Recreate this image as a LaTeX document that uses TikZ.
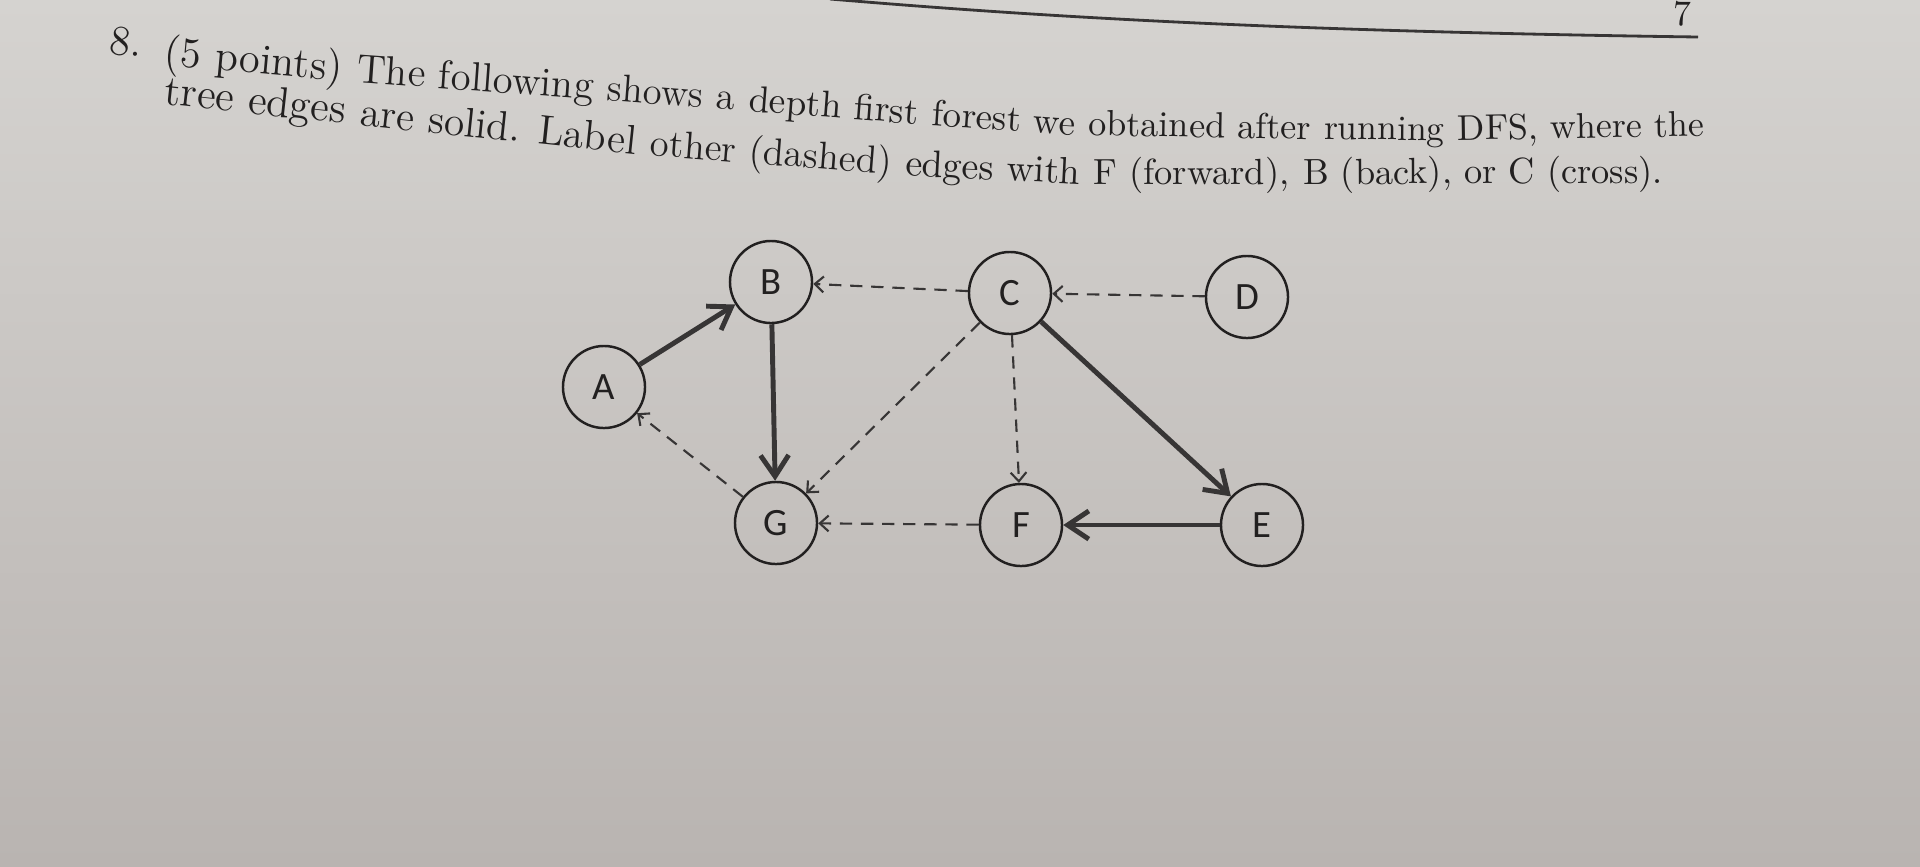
\documentclass[tikz,border=0pt]{standalone}
\usepackage{fontspec}
\usepackage{xcolor}
\usepackage{tikz}
\usetikzlibrary{arrows.meta}
\newfontfamily\vertexfont{Carlito}
\definecolor{papertop}{RGB}{213,211,208}
\definecolor{paperbot}{RGB}{185,180,177}
\definecolor{ink}{RGB}{34,32,32}
\definecolor{edgeink}{RGB}{55,53,53}
\newcommand{\pt}[1]{\fontsize{#1}{#1}\selectfont}

\begin{document}
\begin{tikzpicture}[x=0.01cm, y=0.01cm,
  vertex/.style={draw=ink, line width=0.7pt, circle, minimum size=0.82cm, text=ink,
    font=\vertexfont\fontsize{11}{13}\selectfont},
  tree/.style={draw=edgeink, line width=1.4pt, -{Straight Barb[length=6pt,width=8pt]}},
  other/.style={draw=edgeink, line width=0.6pt, dash pattern=on 3.5pt off 2.5pt,
    -{Straight Barb[length=2.5pt,width=4.5pt]}},
  words/.style={anchor=base west, text=ink}]
\tikzstyle{every node}+=[inner sep=0pt]
\useasboundingbox (0,0) rectangle (1920,-866);
\shade [top color=papertop, bottom color=paperbot] (0,0) rectangle (1920,-866);
% page header
\draw [edgeink, line width=0.8pt] (830,1) .. controls (1020,-15) and (1260,-31) .. (1698,-37);
\node [words, anchor=base east, font=\pt{10.2}] (page) at (1692,-25) {7};
% question text, first line
\node [words, rotate=-8, font=\pt{12}] (num) at (108,-53) {8.};
\node [words, rotate=-5.2, font=\pt{12.1}] (l1a) at (163,-65) {(5 points)};
\node [words, rotate=-4.1, font=\pt{11.6}] (l1b) at (l1a.base east) {\ The following};
\node [words, rotate=-4.4, font=\pt{11}] (l1c) at (l1b.base east) {\ shows a};
\node [words, rotate=-4.4, font=\pt{10.6}] (l1d) at (l1c.base east) {\ depth first};
\node [words, rotate=-4, font=\pt{10.5}] (l1e) at (l1d.base east) {\ forest we};
\node [words, rotate=-1, font=\pt{10.3}] (l1f) at (l1e.base east) {\ obtained after};
\node [words, rotate=-0.4, font=\pt{10.1}] (l1g) at (l1f.base east) {\ running};
\node [words, rotate=0.9, font=\pt{10.2}] (l1h) at (l1g.base east) {\ DFS, where the};
% second line
\node [words, rotate=-6.2, font=\pt{12.2}] (l2a) at (163,-104) {tree edges};
\node [words, rotate=-6, font=\pt{11.8}] (l2b) at (l2a.base east) {\ are solid. Label};
\node [words, rotate=-4.5, font=\pt{11}] (l2c) at (l2b.base east) {\ other (dashed)};
\node [words, rotate=-3, font=\pt{10.8}] (l2d) at (l2c.base east) {\ edges with};
\node [words, rotate=0, font=\pt{10.35}] (l2e) at (l2d.base east) {\ F (forward),};
\node [words, rotate=0.2, font=\pt{10.35}] (l2f) at (l2e.base east) {\ B (back), or C (cross).};
% the forest
\node [vertex] (A) at (604,-387) {A};
\node [vertex] (B) at (771,-282) {B};
\node [vertex] (C) at (1010,-293) {C};
\node [vertex] (D) at (1247,-297) {D};
\node [vertex] (G) at (776,-523) {G};
\node [vertex] (F) at (1021,-525) {F};
\node [vertex] (E) at (1262,-525) {E};
\draw [tree] (A) -- (B);
\draw [tree] (B) -- (G);
\draw [tree] (C) -- (E);
\draw [tree] (E) -- (F);
\draw [other] (C) -- (B);
\draw [other] (D) -- (C);
\draw [other] (C) -- (G);
\draw [other] (C) -- (F);
\draw [other] (F) -- (G);
\draw [other] (G) -- (A);
\end{tikzpicture}
\end{document}
